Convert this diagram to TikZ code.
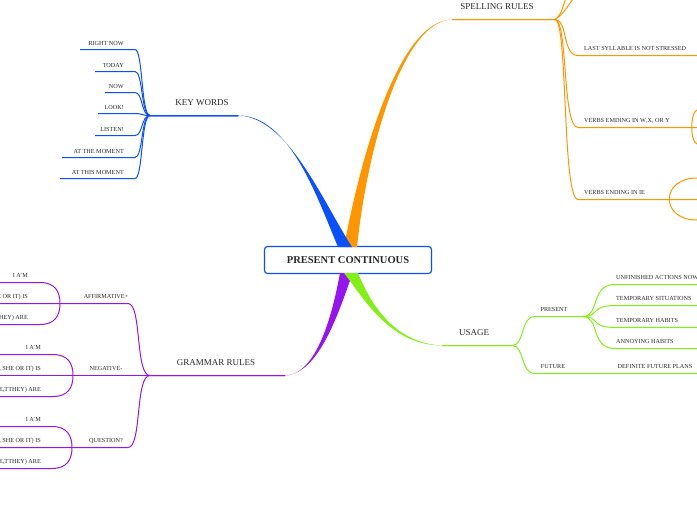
\documentclass[tikz,border=0pt]{standalone}
\usepackage{fontspec}
\setmainfont{Liberation Serif}
\definecolor{orn}{RGB}{255,150,0}
\definecolor{blu}{RGB}{10,80,255}
\definecolor{pur}{RGB}{150,20,240}
\definecolor{grn}{RGB}{130,240,20}
\definecolor{txt}{RGB}{40,40,40}
\begin{document}
\begin{tikzpicture}[x=1pt,y=-1pt,
  sm/.style={font=\fontsize{6.2}{7}\selectfont,text=txt,inner sep=0pt},
  br/.style={font=\fontsize{9}{10}\selectfont,text=txt,inner sep=0pt},
  ln/.style={line width=1pt}]
\useasboundingbox (0,0) rectangle (697,520);
\clip (0,0) rectangle (697,520);
% center
\node[draw=blu,line width=1.2pt,rounded corners=3pt,minimum width=167pt,minimum height=27pt,
  font=\fontsize{10.5}{12}\selectfont\bfseries,text=txt] (c) at (348,260) {PRESENT CONTINUOUS};
% thick branches
\fill[orn] (344,247) .. controls (362,150) and (400,20) .. (452,19.5) .. controls (402,21) and (367,150) .. (357,247) -- cycle;
\fill[blu] (338,247) .. controls (318,200) and (290,115) .. (238,115.5) .. controls (288,117) and (322,200) .. (352,247) -- cycle;
\fill[pur] (340,273) .. controls (335,300) and (320,375) .. (285,375.5) .. controls (322,374) and (342,300) .. (353,273) -- cycle;
\fill[grn] (344,273) .. controls (365,300) and (390,345) .. (442,345.5) .. controls (392,343) and (369,300) .. (358,273) -- cycle;

% ===== KEY WORDS =====
\node[br] (kw) at (202,103) {KEY WORDS};
\coordinate (kj) at (150,115.5);
\foreach \t/\y/\x in {RIGHT NOW/49.5/80, TODAY/71.5/95, NOW/92.5/105, LOOK!/113.5/98, LISTEN!/135.5/95, AT THE MOMENT/157.5/62, AT THIS MOMENT/178.5/60}{
  \draw[blu,ln] (238,115.5) -- (kj) .. controls (141,115.5) and (143,\y) .. (135,\y) -- (\x,\y);
  \node[sm,anchor=base east] at (124,\y-4) {\t};
}

% ===== SPELLING RULES =====
\node[br] (sp) at (497,7) {SPELLING RULES};
\coordinate (sj) at (555,19.5);
\draw[orn,ln] (452,19.5) -- (sj) .. controls (562,15) and (563,5) .. (566,-2);
\draw[orn,ln] (452,19.5) -- (sj) .. controls (564,14) and (568,5) .. (574,-2);
\foreach \t/\y in {LAST SYLLABLE IS NOT STRESSED/55.5, VERBS EMDING IN W\rlap{,}\phantom{,}X\rlap{,}\phantom{,} OR Y/127.5, VERBS ENDING IN IE/199.5}{
  \draw[orn,ln] (sj) .. controls (568,19.5) and (562,\y) .. (578,\y) -- (697,\y);
  \node[sm,anchor=base west] at (584,\y-5) {\t};
}
\draw[orn,ln] (697,110) .. controls (690,112) and (690,142) .. (697,144);
\draw[orn,ln] (697,178) .. controls (660,178) and (660,220) .. (697,220);

% ===== USAGE =====
\node[br] (us) at (474,333) {USAGE};
\coordinate (uj) at (512,345.5);
\draw[grn,ln] (442,345.5) -- (uj) .. controls (525,345.5) and (520,316.5) .. (535,316.5) -- (583,316.5);
\draw[grn,ln] (442,345.5) -- (uj) .. controls (525,345.5) and (520,373.5) .. (535,373.5) -- (697,373.5);
\node[sm,anchor=base] at (554,311) {PRESENT};
\node[sm,anchor=base] at (553,368) {FUTURE};
\node[sm,anchor=base] at (655,368) {DEFINITE FUTURE PLANS};
\coordinate (pj) at (583,316.5);
\foreach \t/\y in {UNFINISHED ACTIONS NOW/284.5, TEMPORARY SITUATIONS/305.5, TEMPORARY HABITS/327.5, ANNOYING HABITS/348.5}{
  \draw[grn,ln] (pj) .. controls (600,316.5) and (590,\y) .. (615,\y) -- (697,\y);
  \node[sm,anchor=base west] at (616,\y-5) {\t};
}

% ===== GRAMMAR RULES =====
\node[br] (gr) at (216,363) {GRAMMAR RULES};
\coordinate (gj) at (150,375.5);
\foreach \t/\y/\xj/\xe in {AFFIRMATIVE+/303.5/60/28, NEGATIVE-/375.5/73/41, QUESTION?/447.5/72/41}{
  \draw[pur,ln] (285,375.5) -- (gj) .. controls (135,375.5) and (142,\y) .. (128,\y) -- (\xj,\y) -- (0,\y);
  \node[sm,anchor=base] at (106,\y-5) {\t};
  \draw[pur,ln] (0,\y-21) -- (\xj-20,\y-21) .. controls (\xj-5,\y-21) and (\xj,\y-12) .. (\xj,\y) .. controls (\xj,\y+12) and (\xj-5,\y+21) .. (\xj-20,\y+21) -- (0,\y+21);
  \node[sm,anchor=base east] at (\xe,\y-26) {I A'M};
  \node[sm,anchor=base east] at (\xe,\y-5) {(HE, SHE OR IT) IS};
  \node[sm,anchor=base east] at (\xe,\y+16) {(YOU,WE,TTHEY) ARE};
}
\end{tikzpicture}
\end{document}
